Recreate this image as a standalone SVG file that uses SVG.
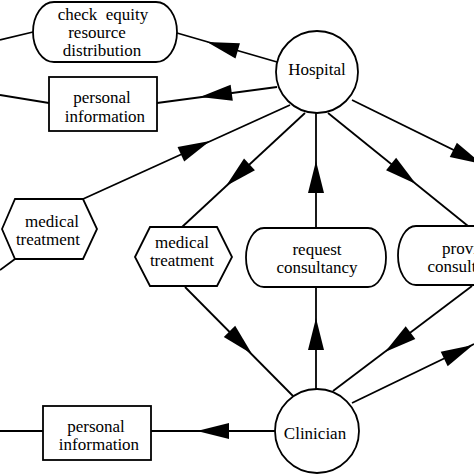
<svg xmlns="http://www.w3.org/2000/svg" xmlns:xlink="http://www.w3.org/1999/xlink" width="474" height="474" viewBox="0 0 474 474">
<style>
.n{fill:#fff;stroke:#000;stroke-width:1.8}
.e{stroke:#000;stroke-width:1.8;fill:none}
text{font-family:'Liberation Serif','DejaVu Serif',serif;font-size:17px;fill:#000;text-anchor:middle}
</style>
<defs>
<path id="ah" d="M0,0 L-32,-8 L-32,8 Z" fill="#000"/>
</defs>
<rect width="474" height="474" fill="#fff"/>
<g id="edges">
<line class="e" x1="0" y1="40" x2="33" y2="32"/>
<line class="e" x1="277" y1="62" x2="177" y2="33"/>
<use xlink:href="#ah" transform="translate(207,42) rotate(196.2)"/>
<line class="e" x1="0" y1="95" x2="49" y2="103"/>
<line class="e" x1="277" y1="87" x2="157" y2="103"/>
<use xlink:href="#ah" transform="translate(200,97) rotate(172.4)"/>
<line class="e" x1="83" y1="199" x2="290" y2="105"/>
<use xlink:href="#ah" transform="translate(210,141) rotate(-24.4)"/>
<line class="e" x1="15" y1="259" x2="0" y2="270"/>
<line class="e" x1="305" y1="113" x2="182" y2="227"/>
<use xlink:href="#ah" transform="translate(226,186) rotate(137.2)"/>
<line class="e" x1="316" y1="228" x2="316" y2="113"/>
<use xlink:href="#ah" transform="translate(316,161) rotate(-90)"/>
<line class="e" x1="328" y1="113" x2="468" y2="226"/>
<use xlink:href="#ah" transform="translate(416,184) rotate(38.9)"/>
<line class="e" x1="352" y1="100" x2="482" y2="164"/>
<use xlink:href="#ah" transform="translate(482,164) rotate(26.3)"/>
<line class="e" x1="185" y1="287" x2="293" y2="396"/>
<use xlink:href="#ah" transform="translate(252,354) rotate(45.3)"/>
<line class="e" x1="316" y1="389" x2="316" y2="287"/>
<use xlink:href="#ah" transform="translate(316,318) rotate(-90)"/>
<line class="e" x1="472" y1="286" x2="333" y2="391"/>
<use xlink:href="#ah" transform="translate(385,352) rotate(142.9)"/>
<line class="e" x1="352" y1="403" x2="474" y2="344"/>
<use xlink:href="#ah" transform="translate(473,345) rotate(-25.8)"/>
<line class="e" x1="275" y1="431" x2="151" y2="431"/>
<use xlink:href="#ah" transform="translate(197,431) rotate(180)"/>
<line class="e" x1="43" y1="431" x2="0" y2="431"/>
</g>
<g id="hospital">
<circle class="n" cx="317" cy="72" r="41"/>
<text x="317" y="75">Hospital</text>
</g>
<g id="clinician">
<circle class="n" cx="317" cy="431" r="42"/>
<text x="315" y="439">Clinician</text>
</g>
<g id="check-equity">
<rect class="n" x="33" y="2" width="144" height="60" rx="21" ry="30"/>
<text x="103" y="20" xml:space="preserve">check  equity</text>
<text x="97" y="38">resource</text>
<text x="102" y="56">distribution</text>
</g>
<g id="personal-info-top">
<rect class="n" x="49" y="77" width="108" height="54"/>
<text x="102" y="103">personal</text>
<text x="105" y="122">information</text>
</g>
<g id="medical-treatment-left">
<polygon class="n" points="2,229 15,199 83,199 97,229 83,259 15,259"/>
<text x="52" y="227">medical</text>
<text x="48" y="245">treatment</text>
</g>
<g id="medical-treatment-mid">
<polygon class="n" points="135,257 150,227 217,227 232,257 217,286 150,286"/>
<text x="182" y="248">medical</text>
<text x="182" y="266">treatment</text>
</g>
<g id="request-consultancy">
<rect class="n" x="246" y="228" width="140" height="59" rx="18" ry="29.5"/>
<text x="317" y="255">request</text>
<text x="317" y="273">consultancy</text>
</g>
<g id="provide-consultancy">
<rect class="n" x="398" y="226" width="140" height="59" rx="18" ry="29.5"/>
<text x="468" y="254">provide</text>
<text x="468" y="272">consultancy</text>
</g>
<g id="personal-info-bottom">
<rect class="n" x="43" y="406" width="108" height="54"/>
<text x="96" y="432">personal</text>
<text x="99" y="450">information</text>
</g>
</svg>
